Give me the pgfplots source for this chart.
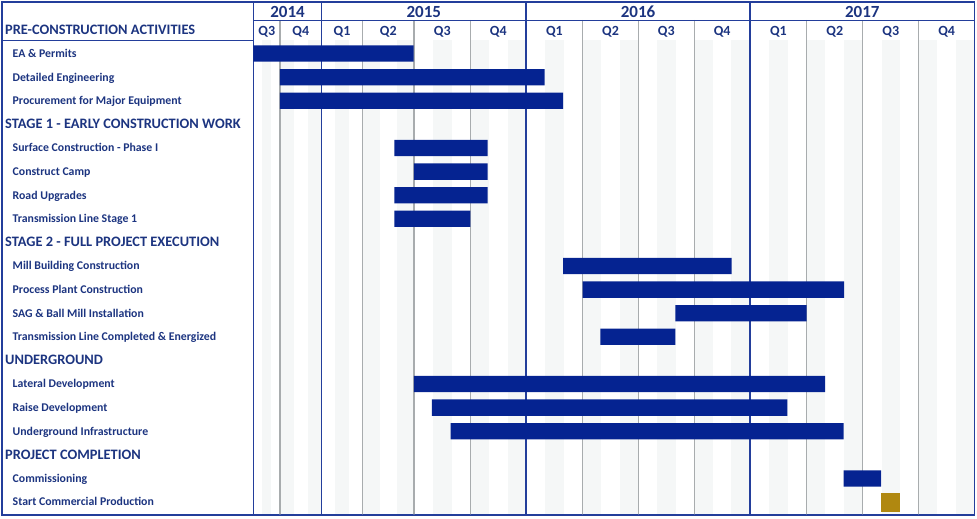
\documentclass[border=0pt]{standalone}
\usepackage{pgfplots}
\pgfplotsset{compat=1.18}
\usepackage{pgfplotstable}
\usepackage{fontspec}
\setmainfont{Carlito}

\definecolor{barblue}{RGB}{5,35,145}
\definecolor{gold}{RGB}{176,136,16}
\definecolor{txt}{RGB}{28,52,128}
\definecolor{framec}{RGB}{35,62,155}
\definecolor{qline}{RGB}{168,172,174}
\definecolor{stripe}{RGB}{245,247,247}

% row index, start and end of each bar (x in timeline units), gold = milestone
\pgfplotstableread{
row start end gold
1  253.5 413.6 0
2  280.0 544.5 0
3  280.0 563.0 0
5  394.3 487.7 0
6  414.0 487.7 0
7  394.3 487.7 0
8  394.3 470.3 0
10 563.0 731.7 0
11 582.7 844.0 0
12 675.3 806.7 0
13 600.3 675.3 0
15 414.0 825.0 0
16 432.0 787.3 0
17 450.7 843.7 0
19 843.7 881.0 0
20 881.0 900.0 1
}\tasks

\pgfplotsset{gantt/.style={
    scale only axis,
    width=721pt, height=475pt,
    xmin=253.5, xmax=974.5,
    ymin=40, ymax=515,
    y dir=reverse,
    hide axis,
    clip=false,
}}

\newcommand{\hd}[2]{\node[anchor=base west,inner sep=0pt,text=txt,font=\fontsize{14.4}{16}\selectfont\bfseries] at (axis cs:5,30+23.6*#1+4.5) {#2};}
\newcommand{\sub}[2]{\node[anchor=base west,inner sep=0pt,text=txt,font=\fontsize{11.8}{13}\selectfont\bfseries] at (axis cs:12.5,30+23.6*#1+3.9) {#2};}

\begin{document}
\begin{tikzpicture}
% background: month shading and quarter lines
\begin{axis}[gantt]
\path (axis cs:0,0) rectangle (axis cs:977,519);
\foreach \a/\b in {262.3/271.2, 280/293.8, 307.7/321.5, 335.2/349, 362.7/379.8,
    396.9/414, 432.9/451.8, 470.7/489.1, 507.6/526, 544.9/563.8, 582.7/601.2,
    619.8/638.3, 657/675.6, 694.3/712.9, 731.4/750, 768.9/787.8, 806.7/825.4,
    844.1/862.8, 881.5/900.1, 918.8/937.4, 956/974.5}{
  \edef\tmp{\noexpand\fill[stripe] (axis cs:\a,40) rectangle (axis cs:\b,515);}\tmp
}
\foreach \q in {280,362.7,414,470.7,582.7,638.3,694.3,806.7,862.8,918.8}{
  \edef\tmp{\noexpand\draw[qline,line width=1.3pt] (axis cs:\q,20) -- (axis cs:\q,515);}\tmp
}
\end{axis}

% bars, frame and labels
\begin{axis}[gantt, xbar stacked, bar width=16.3pt]
\addplot[draw=none, fill=none, forget plot]
  table[x=start, y expr=30+23.6*\thisrow{row}] {\tasks};
\addplot[draw=none, fill=barblue]
  table[x expr=(\thisrow{end}-\thisrow{start})*(1-\thisrow{gold}), y expr=30+23.6*\thisrow{row}] {\tasks};
\addplot[draw=none, fill=gold, bar width=19pt]
  table[x expr=(\thisrow{end}-\thisrow{start})*\thisrow{gold}, y expr=30+23.6*\thisrow{row}] {\tasks};

% quarter lines seen through the bars
\foreach \q in {280,362.7,414,470.7,582.7,638.3,694.3,806.7,862.8,918.8}{
  \edef\tmp{\noexpand\draw[qline,opacity=0.35,line width=1.3pt] (axis cs:\q,40) -- (axis cs:\q,515);}\tmp
}
% year lines and frame
\foreach \y in {253.5,321.5,526,750,974.5}{
  \edef\tmp{\noexpand\draw[framec,line width=1.8pt] (axis cs:\y,2) -- (axis cs:\y,515);}\tmp
}
\draw[framec,line width=1.8pt] (axis cs:2,2) rectangle (axis cs:974.5,515);
\draw[framec,line width=1pt] (axis cs:253.5,20.5) -- (axis cs:974.5,20.5);
\draw[framec,line width=1.4pt] (axis cs:2,40.5) -- (axis cs:253.5,40.5);

% years
\foreach \x/\t in {287.5/2014, 423.75/2015, 638/2016, 862.25/2017}{
  \edef\tmp{\noexpand\node[text=txt,font=\noexpand\fontsize{17}{19}\noexpand\selectfont\noexpand\bfseries] at (axis cs:\x,12) {\t};}\tmp
}
% quarters
\foreach \x/\t in {266.75/Q3, 300.75/Q4, 342.1/Q1, 388.35/Q2, 442.35/Q3, 498.35/Q4,
    554.35/Q1, 610.5/Q2, 666.3/Q3, 722.15/Q4, 778.35/Q1, 834.75/Q2, 890.8/Q3, 946.65/Q4}{
  \edef\tmp{\noexpand\node[anchor=base,text=txt,font=\noexpand\fontsize{14}{16}\noexpand\selectfont\noexpand\bfseries] at (axis cs:\x,36) {\t};}\tmp
}

% row labels
\hd{0}{PRE-CONSTRUCTION ACTIVITIES}
\sub{1}{EA \& Permits}
\sub{2}{Detailed Engineering}
\sub{3}{Procurement for Major Equipment}
\hd{4}{STAGE 1 - EARLY CONSTRUCTION WORK}
\sub{5}{Surface Construction - Phase I}
\sub{6}{Construct Camp}
\sub{7}{Road Upgrades}
\sub{8}{Transmission Line Stage 1}
\hd{9}{STAGE 2 - FULL PROJECT EXECUTION}
\sub{10}{Mill Building Construction}
\sub{11}{Process Plant Construction}
\sub{12}{SAG \& Ball Mill Installation}
\sub{13}{Transmission Line Completed \& Energized}
\hd{14}{UNDERGROUND}
\sub{15}{Lateral Development}
\sub{16}{Raise Development}
\sub{17}{Underground Infrastructure}
\hd{18}{PROJECT COMPLETION}
\sub{19}{Commissioning}
\sub{20}{Start Commercial Production}
\end{axis}
\end{tikzpicture}
\end{document}
